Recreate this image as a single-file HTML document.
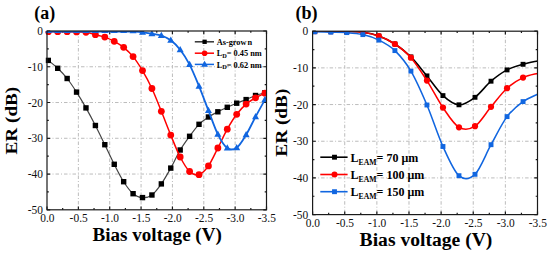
<!DOCTYPE html>
<html><head><meta charset="utf-8"><style>
html,body{margin:0;padding:0;background:#fff;}
body{width:550px;height:253px;overflow:hidden;font-family:"Liberation Serif",serif;}
svg{display:block;}
</style></head><body>
<svg width="550" height="253" viewBox="0 0 550 253">
<rect width="550" height="253" fill="#fff"/>
<defs><clipPath id="ca"><rect x="45.50" y="31.00" width="221.00" height="178.80"/></clipPath>
<clipPath id="cb"><rect x="312.60" y="31.20" width="224.90" height="183.40"/></clipPath></defs>
<g stroke="#bcbcbc" stroke-width="1" stroke-dasharray="3.5 2 1 2"><line x1="78.36" y1="31.00" x2="78.36" y2="209.80"/><line x1="109.71" y1="31.00" x2="109.71" y2="209.80"/><line x1="141.07" y1="31.00" x2="141.07" y2="209.80"/><line x1="172.43" y1="31.00" x2="172.43" y2="209.80"/><line x1="203.79" y1="31.00" x2="203.79" y2="209.80"/><line x1="235.14" y1="31.00" x2="235.14" y2="209.80"/><line x1="47.00" y1="66.76" x2="266.50" y2="66.76"/><line x1="47.00" y1="102.52" x2="266.50" y2="102.52"/><line x1="47.00" y1="138.28" x2="266.50" y2="138.28"/><line x1="47.00" y1="174.04" x2="266.50" y2="174.04"/></g>
<path d="M47.00,209.80V206.60M47.00,31.00V34.20M78.36,209.80V206.60M78.36,31.00V34.20M109.71,209.80V206.60M109.71,31.00V34.20M141.07,209.80V206.60M141.07,31.00V34.20M172.43,209.80V206.60M172.43,31.00V34.20M203.79,209.80V206.60M203.79,31.00V34.20M235.14,209.80V206.60M235.14,31.00V34.20M266.50,209.80V206.60M266.50,31.00V34.20M62.68,209.80V208.00M62.68,31.00V32.80M94.04,209.80V208.00M94.04,31.00V32.80M125.39,209.80V208.00M125.39,31.00V32.80M156.75,209.80V208.00M156.75,31.00V32.80M188.11,209.80V208.00M188.11,31.00V32.80M219.46,209.80V208.00M219.46,31.00V32.80M250.82,209.80V208.00M250.82,31.00V32.80M47.00,31.00H50.20M266.50,31.00H263.30M47.00,66.76H50.20M266.50,66.76H263.30M47.00,102.52H50.20M266.50,102.52H263.30M47.00,138.28H50.20M266.50,138.28H263.30M47.00,174.04H50.20M266.50,174.04H263.30M47.00,209.80H50.20M266.50,209.80H263.30M47.00,48.88H48.80M266.50,48.88H264.70M47.00,84.64H48.80M266.50,84.64H264.70M47.00,120.40H48.80M266.50,120.40H264.70M47.00,156.16H48.80M266.50,156.16H264.70M47.00,191.92H48.80M266.50,191.92H264.70" fill="none" stroke="#1a1a1a" stroke-width="1.2"/>
<g clip-path="url(#ca)"><path d="M48.30,60.40 C49.87,61.72 54.58,65.28 57.72,68.30 C60.86,71.32 64.00,74.53 67.14,78.50 C70.28,82.47 73.42,87.20 76.56,92.10 C79.70,97.00 82.84,102.33 85.98,107.90 C89.12,113.47 92.26,119.37 95.40,125.50 C98.54,131.63 101.68,138.23 104.82,144.70 C107.96,151.17 111.10,158.13 114.24,164.30 C117.38,170.47 120.52,176.80 123.66,181.70 C126.80,186.60 129.94,191.05 133.08,193.70 C136.22,196.35 139.36,197.38 142.50,197.60 C145.64,197.82 148.78,197.28 151.92,195.00 C155.06,192.72 158.20,188.38 161.34,183.90 C164.48,179.42 167.62,173.75 170.76,168.10 C173.90,162.45 177.04,155.30 180.18,150.00 C183.32,144.70 186.46,140.58 189.60,136.30 C192.74,132.02 195.88,127.52 199.02,124.30 C202.16,121.08 205.30,119.08 208.44,117.00 C211.58,114.92 214.72,113.42 217.86,111.80 C221.00,110.18 224.14,108.73 227.28,107.30 C230.42,105.87 233.56,104.48 236.70,103.20 C239.84,101.92 242.98,100.88 246.12,99.60 C249.26,98.32 252.40,96.65 255.54,95.50 C258.68,94.35 263.39,93.17 264.96,92.70" fill="none" stroke="#444" stroke-width="1.2"/><rect x="45.60" y="57.70" width="5.40" height="5.40" fill="#000000"/><rect x="55.02" y="65.60" width="5.40" height="5.40" fill="#000000"/><rect x="64.44" y="75.80" width="5.40" height="5.40" fill="#000000"/><rect x="73.86" y="89.40" width="5.40" height="5.40" fill="#000000"/><rect x="83.28" y="105.20" width="5.40" height="5.40" fill="#000000"/><rect x="92.70" y="122.80" width="5.40" height="5.40" fill="#000000"/><rect x="102.12" y="142.00" width="5.40" height="5.40" fill="#000000"/><rect x="111.54" y="161.60" width="5.40" height="5.40" fill="#000000"/><rect x="120.96" y="179.00" width="5.40" height="5.40" fill="#000000"/><rect x="130.38" y="191.00" width="5.40" height="5.40" fill="#000000"/><rect x="139.80" y="194.90" width="5.40" height="5.40" fill="#000000"/><rect x="149.22" y="192.30" width="5.40" height="5.40" fill="#000000"/><rect x="158.64" y="181.20" width="5.40" height="5.40" fill="#000000"/><rect x="168.06" y="165.40" width="5.40" height="5.40" fill="#000000"/><rect x="177.48" y="147.30" width="5.40" height="5.40" fill="#000000"/><rect x="186.90" y="133.60" width="5.40" height="5.40" fill="#000000"/><rect x="196.32" y="121.60" width="5.40" height="5.40" fill="#000000"/><rect x="205.74" y="114.30" width="5.40" height="5.40" fill="#000000"/><rect x="215.16" y="109.10" width="5.40" height="5.40" fill="#000000"/><rect x="224.58" y="104.60" width="5.40" height="5.40" fill="#000000"/><rect x="234.00" y="100.50" width="5.40" height="5.40" fill="#000000"/><rect x="243.42" y="96.90" width="5.40" height="5.40" fill="#000000"/><rect x="252.84" y="92.80" width="5.40" height="5.40" fill="#000000"/><rect x="262.26" y="90.00" width="5.40" height="5.40" fill="#000000"/><path d="M48.30,31.70 C49.87,31.70 54.58,31.70 57.72,31.70 C60.86,31.70 64.00,31.67 67.14,31.70 C70.28,31.73 73.42,31.80 76.56,31.90 C79.70,32.00 82.84,31.83 85.98,32.30 C89.12,32.77 92.26,33.90 95.40,34.70 C98.54,35.50 101.68,36.00 104.82,37.10 C107.96,38.20 111.10,39.60 114.24,41.30 C117.38,43.00 120.52,44.75 123.66,47.30 C126.80,49.85 129.94,52.72 133.08,56.60 C136.22,60.48 139.36,65.28 142.50,70.60 C145.64,75.92 148.78,81.72 151.92,88.50 C155.06,95.28 158.20,103.53 161.34,111.30 C164.48,119.07 167.62,127.48 170.76,135.10 C173.90,142.72 177.04,150.93 180.18,157.00 C183.32,163.07 186.46,168.55 189.60,171.50 C192.74,174.45 195.88,175.63 199.02,174.70 C202.16,173.77 205.30,170.35 208.44,165.90 C211.58,161.45 214.72,154.12 217.86,148.00 C221.00,141.88 224.14,134.82 227.28,129.20 C230.42,123.58 233.56,118.48 236.70,114.30 C239.84,110.12 242.98,106.85 246.12,104.10 C249.26,101.35 252.40,99.62 255.54,97.80 C258.68,95.98 263.39,93.97 264.96,93.20" fill="none" stroke="#ff0000" stroke-width="1.5"/><circle cx="48.30" cy="31.70" r="3.40" fill="#ff0000"/><circle cx="57.72" cy="31.70" r="3.40" fill="#ff0000"/><circle cx="67.14" cy="31.70" r="3.40" fill="#ff0000"/><circle cx="76.56" cy="31.90" r="3.40" fill="#ff0000"/><circle cx="85.98" cy="32.30" r="3.40" fill="#ff0000"/><circle cx="95.40" cy="34.70" r="3.40" fill="#ff0000"/><circle cx="104.82" cy="37.10" r="3.40" fill="#ff0000"/><circle cx="114.24" cy="41.30" r="3.40" fill="#ff0000"/><circle cx="123.66" cy="47.30" r="3.40" fill="#ff0000"/><circle cx="133.08" cy="56.60" r="3.40" fill="#ff0000"/><circle cx="142.50" cy="70.60" r="3.40" fill="#ff0000"/><circle cx="151.92" cy="88.50" r="3.40" fill="#ff0000"/><circle cx="161.34" cy="111.30" r="3.40" fill="#ff0000"/><circle cx="170.76" cy="135.10" r="3.40" fill="#ff0000"/><circle cx="180.18" cy="157.00" r="3.40" fill="#ff0000"/><circle cx="189.60" cy="171.50" r="3.40" fill="#ff0000"/><circle cx="199.02" cy="174.70" r="3.40" fill="#ff0000"/><circle cx="208.44" cy="165.90" r="3.40" fill="#ff0000"/><circle cx="217.86" cy="148.00" r="3.40" fill="#ff0000"/><circle cx="227.28" cy="129.20" r="3.40" fill="#ff0000"/><circle cx="236.70" cy="114.30" r="3.40" fill="#ff0000"/><circle cx="246.12" cy="104.10" r="3.40" fill="#ff0000"/><circle cx="255.54" cy="97.80" r="3.40" fill="#ff0000"/><circle cx="264.96" cy="93.20" r="3.40" fill="#ff0000"/><path d="M48.30,31.60 C49.87,31.60 54.58,31.60 57.72,31.60 C60.86,31.60 64.00,31.60 67.14,31.60 C70.28,31.60 73.42,31.60 76.56,31.60 C79.70,31.60 82.84,31.60 85.98,31.60 C89.12,31.60 92.26,31.60 95.40,31.60 C98.54,31.60 101.68,31.60 104.82,31.60 C107.96,31.60 111.10,31.60 114.24,31.60 C117.38,31.60 120.52,31.58 123.66,31.60 C126.80,31.62 129.94,31.58 133.08,31.70 C136.22,31.82 139.36,31.97 142.50,32.30 C145.64,32.63 148.78,33.17 151.92,33.70 C155.06,34.23 158.20,34.40 161.34,35.50 C164.48,36.60 167.62,37.93 170.76,40.30 C173.90,42.67 177.04,45.65 180.18,49.70 C183.32,53.75 186.46,58.52 189.60,64.60 C192.74,70.68 195.88,78.55 199.02,86.20 C202.16,93.85 205.30,102.48 208.44,110.50 C211.58,118.52 214.72,128.05 217.86,134.30 C221.00,140.55 224.14,145.77 227.28,148.00 C230.42,150.23 233.56,149.90 236.70,147.70 C239.84,145.50 242.98,139.95 246.12,134.80 C249.26,129.65 252.40,122.67 255.54,116.80 C258.68,110.93 263.39,102.47 264.96,99.60" fill="none" stroke="#1166e0" stroke-width="1.8"/><polygon points="48.30,26.82 44.80,33.12 51.80,33.12" fill="#1166e0"/><polygon points="57.72,26.82 54.22,33.12 61.22,33.12" fill="#1166e0"/><polygon points="67.14,26.82 63.64,33.12 70.64,33.12" fill="#1166e0"/><polygon points="76.56,26.82 73.06,33.12 80.06,33.12" fill="#1166e0"/><polygon points="85.98,26.82 82.48,33.12 89.48,33.12" fill="#1166e0"/><polygon points="95.40,26.82 91.90,33.12 98.90,33.12" fill="#1166e0"/><polygon points="104.82,26.82 101.32,33.12 108.32,33.12" fill="#1166e0"/><polygon points="114.24,26.82 110.74,33.12 117.74,33.12" fill="#1166e0"/><polygon points="123.66,26.82 120.16,33.12 127.16,33.12" fill="#1166e0"/><polygon points="133.08,26.92 129.58,33.22 136.58,33.22" fill="#1166e0"/><polygon points="142.50,28.52 139.00,34.82 146.00,34.82" fill="#1166e0"/><polygon points="151.92,29.92 148.42,36.22 155.42,36.22" fill="#1166e0"/><polygon points="161.34,31.72 157.84,38.02 164.84,38.02" fill="#1166e0"/><polygon points="170.76,36.52 167.26,42.82 174.26,42.82" fill="#1166e0"/><polygon points="180.18,45.92 176.68,52.22 183.68,52.22" fill="#1166e0"/><polygon points="189.60,60.82 186.10,67.12 193.10,67.12" fill="#1166e0"/><polygon points="199.02,82.42 195.52,88.72 202.52,88.72" fill="#1166e0"/><polygon points="208.44,106.72 204.94,113.02 211.94,113.02" fill="#1166e0"/><polygon points="217.86,130.52 214.36,136.82 221.36,136.82" fill="#1166e0"/><polygon points="227.28,144.22 223.78,150.52 230.78,150.52" fill="#1166e0"/><polygon points="236.70,143.92 233.20,150.22 240.20,150.22" fill="#1166e0"/><polygon points="246.12,131.02 242.62,137.32 249.62,137.32" fill="#1166e0"/><polygon points="255.54,113.02 252.04,119.32 259.04,119.32" fill="#1166e0"/><polygon points="264.96,95.82 261.46,102.12 268.46,102.12" fill="#1166e0"/></g>
<rect x="47.00" y="31.00" width="219.50" height="178.80" fill="none" stroke="#1a1a1a" stroke-width="1.2"/>
<g font-family="Liberation Serif" font-size="12.30" fill="#111"><text transform="translate(47.30,222.40) scale(0.930,1)" text-anchor="middle">0.0</text><text transform="translate(78.66,222.40) scale(0.930,1)" text-anchor="middle">-0.5</text><text transform="translate(110.01,222.40) scale(0.930,1)" text-anchor="middle">-1.0</text><text transform="translate(141.37,222.40) scale(0.930,1)" text-anchor="middle">-1.5</text><text transform="translate(172.73,222.40) scale(0.930,1)" text-anchor="middle">-2.0</text><text transform="translate(204.09,222.40) scale(0.930,1)" text-anchor="middle">-2.5</text><text transform="translate(235.44,222.40) scale(0.930,1)" text-anchor="middle">-3.0</text><text transform="translate(266.80,222.40) scale(0.930,1)" text-anchor="middle">-3.5</text><text transform="translate(42.90,35.20) scale(0.930,1)" text-anchor="end">0</text><text transform="translate(42.90,70.96) scale(0.930,1)" text-anchor="end">-10</text><text transform="translate(42.90,106.72) scale(0.930,1)" text-anchor="end">-20</text><text transform="translate(42.90,142.48) scale(0.930,1)" text-anchor="end">-30</text><text transform="translate(42.90,178.24) scale(0.930,1)" text-anchor="end">-40</text><text transform="translate(42.90,214.00) scale(0.930,1)" text-anchor="end">-50</text></g>
<text x="157.2" y="240.7" text-anchor="middle" font-family="Liberation Serif" font-weight="bold" font-size="19.1">Bias voltage (V)</text>
<text transform="translate(17.2,120.6) rotate(-90) scale(1,0.92)" text-anchor="middle" font-family="Liberation Serif" font-weight="bold" font-size="19.2">ER (dB)</text>
<text transform="translate(34.3,19.1) scale(0.92,1)" font-family="Liberation Serif" font-weight="bold" font-size="19.5">(a)</text>
<line x1="194.8" y1="41.80" x2="214" y2="41.80" stroke="#333" stroke-width="1.5"/><rect x="202.45" y="39.65" width="4.30" height="4.30" fill="#000000"/><text x="216.7" y="44.80" font-family="Liberation Serif" font-weight="bold" font-size="8.3">As-grow<tspan dx="1">n</tspan></text><line x1="194.8" y1="53.20" x2="214" y2="53.20" stroke="#ff0000" stroke-width="1.5"/><circle cx="204.60" cy="53.20" r="2.80" fill="#ff0000"/><text x="216.7" y="56.30" font-family="Liberation Serif" font-weight="bold" font-size="8.3">L<tspan font-size="6.3" dy="1.6">D</tspan><tspan dy="-1.6">= 0.45 nm</tspan></text><line x1="194.8" y1="64.40" x2="214" y2="64.40" stroke="#1166e0" stroke-width="1.5"/><polygon points="204.60,60.73 201.20,66.85 208.00,66.85" fill="#1166e0"/><text x="216.7" y="67.80" font-family="Liberation Serif" font-weight="bold" font-size="8.3">L<tspan font-size="6.3" dy="1.6">D</tspan><tspan dy="-1.6">= 0.62 nm</tspan></text>
<g stroke="#bcbcbc" stroke-width="1" stroke-dasharray="3.5 2 1 2"><line x1="344.73" y1="31.20" x2="344.73" y2="214.60"/><line x1="376.86" y1="31.20" x2="376.86" y2="214.60"/><line x1="408.99" y1="31.20" x2="408.99" y2="214.60"/><line x1="441.11" y1="31.20" x2="441.11" y2="214.60"/><line x1="473.24" y1="31.20" x2="473.24" y2="214.60"/><line x1="505.37" y1="31.20" x2="505.37" y2="214.60"/><line x1="312.60" y1="67.88" x2="537.50" y2="67.88"/><line x1="312.60" y1="104.56" x2="537.50" y2="104.56"/><line x1="312.60" y1="141.24" x2="537.50" y2="141.24"/><line x1="312.60" y1="177.92" x2="537.50" y2="177.92"/></g>
<path d="M312.60,214.60V211.40M312.60,31.20V34.40M344.73,214.60V211.40M344.73,31.20V34.40M376.86,214.60V211.40M376.86,31.20V34.40M408.99,214.60V211.40M408.99,31.20V34.40M441.11,214.60V211.40M441.11,31.20V34.40M473.24,214.60V211.40M473.24,31.20V34.40M505.37,214.60V211.40M505.37,31.20V34.40M537.50,214.60V211.40M537.50,31.20V34.40M328.66,214.60V212.80M328.66,31.20V33.00M360.79,214.60V212.80M360.79,31.20V33.00M392.92,214.60V212.80M392.92,31.20V33.00M425.05,214.60V212.80M425.05,31.20V33.00M457.18,214.60V212.80M457.18,31.20V33.00M489.31,214.60V212.80M489.31,31.20V33.00M521.44,214.60V212.80M521.44,31.20V33.00M312.60,31.20H315.80M537.50,31.20H534.30M312.60,67.88H315.80M537.50,67.88H534.30M312.60,104.56H315.80M537.50,104.56H534.30M312.60,141.24H315.80M537.50,141.24H534.30M312.60,177.92H315.80M537.50,177.92H534.30M312.60,214.60H315.80M537.50,214.60H534.30M312.60,49.54H314.40M537.50,49.54H535.70M312.60,86.22H314.40M537.50,86.22H535.70M312.60,122.90H314.40M537.50,122.90H535.70M312.60,159.58H314.40M537.50,159.58H535.70M312.60,196.26H314.40M537.50,196.26H535.70" fill="none" stroke="#1a1a1a" stroke-width="1.2"/>
<g clip-path="url(#cb)"><path d="M314.80,31.20 C317.47,31.20 325.48,31.15 330.82,31.20 C336.16,31.25 341.50,31.33 346.84,31.50 C352.18,31.67 357.52,31.45 362.86,32.20 C368.20,32.95 373.54,34.03 378.88,36.00 C384.22,37.97 389.56,40.52 394.90,44.00 C400.24,47.48 405.58,51.58 410.92,56.90 C416.26,62.22 421.60,69.45 426.94,75.90 C432.28,82.35 437.62,90.78 442.96,95.60 C448.30,100.42 453.64,104.52 458.98,104.80 C464.32,105.08 469.66,101.23 475.00,97.30 C480.34,93.37 485.68,85.77 491.02,81.20 C496.36,76.63 501.70,72.72 507.04,69.90 C512.38,67.08 517.98,65.78 523.06,64.30 C528.14,62.82 535.09,61.55 537.50,61.00" fill="none" stroke="#000000" stroke-width="1.55"/><rect x="312.35" y="28.75" width="4.90" height="4.90" fill="#000000"/><rect x="328.37" y="28.75" width="4.90" height="4.90" fill="#000000"/><rect x="344.39" y="29.05" width="4.90" height="4.90" fill="#000000"/><rect x="360.41" y="29.75" width="4.90" height="4.90" fill="#000000"/><rect x="376.43" y="33.55" width="4.90" height="4.90" fill="#000000"/><rect x="392.45" y="41.55" width="4.90" height="4.90" fill="#000000"/><rect x="408.47" y="54.45" width="4.90" height="4.90" fill="#000000"/><rect x="424.49" y="73.45" width="4.90" height="4.90" fill="#000000"/><rect x="440.51" y="93.15" width="4.90" height="4.90" fill="#000000"/><rect x="456.53" y="102.35" width="4.90" height="4.90" fill="#000000"/><rect x="472.55" y="94.85" width="4.90" height="4.90" fill="#000000"/><rect x="488.57" y="78.75" width="4.90" height="4.90" fill="#000000"/><rect x="504.59" y="67.45" width="4.90" height="4.90" fill="#000000"/><rect x="520.61" y="61.85" width="4.90" height="4.90" fill="#000000"/><path d="M314.80,31.20 C317.47,31.20 325.48,31.15 330.82,31.20 C336.16,31.25 341.50,31.33 346.84,31.50 C352.18,31.67 357.52,31.43 362.86,32.20 C368.20,32.97 373.54,34.13 378.88,36.10 C384.22,38.07 389.56,40.40 394.90,44.00 C400.24,47.60 405.58,51.60 410.92,57.70 C416.26,63.80 421.60,72.28 426.94,80.60 C432.28,88.92 437.62,99.82 442.96,107.60 C448.30,115.38 453.64,124.20 458.98,127.30 C464.32,130.40 469.66,129.62 475.00,126.20 C480.34,122.78 485.68,113.13 491.02,106.80 C496.36,100.47 501.70,93.07 507.04,88.20 C512.38,83.33 517.98,80.07 523.06,77.60 C528.14,75.13 535.09,74.10 537.50,73.40" fill="none" stroke="#ff0000" stroke-width="1.55"/><circle cx="314.80" cy="31.20" r="3.10" fill="#ff0000"/><circle cx="330.82" cy="31.20" r="3.10" fill="#ff0000"/><circle cx="346.84" cy="31.50" r="3.10" fill="#ff0000"/><circle cx="362.86" cy="32.20" r="3.10" fill="#ff0000"/><circle cx="378.88" cy="36.10" r="3.10" fill="#ff0000"/><circle cx="394.90" cy="44.00" r="3.10" fill="#ff0000"/><circle cx="410.92" cy="57.70" r="3.10" fill="#ff0000"/><circle cx="426.94" cy="80.60" r="3.10" fill="#ff0000"/><circle cx="442.96" cy="107.60" r="3.10" fill="#ff0000"/><circle cx="458.98" cy="127.30" r="3.10" fill="#ff0000"/><circle cx="475.00" cy="126.20" r="3.10" fill="#ff0000"/><circle cx="491.02" cy="106.80" r="3.10" fill="#ff0000"/><circle cx="507.04" cy="88.20" r="3.10" fill="#ff0000"/><circle cx="523.06" cy="77.60" r="3.10" fill="#ff0000"/><path d="M314.80,31.80 C317.47,31.87 325.48,32.07 330.82,32.20 C336.16,32.33 341.50,32.20 346.84,32.60 C352.18,33.00 357.52,33.35 362.86,34.60 C368.20,35.85 373.54,37.43 378.88,40.10 C384.22,42.77 389.56,45.43 394.90,50.60 C400.24,55.77 405.58,62.03 410.92,71.10 C416.26,80.17 421.60,92.43 426.94,105.00 C432.28,117.57 437.62,134.72 442.96,146.50 C448.30,158.28 453.64,171.07 458.98,175.70 C464.32,180.33 469.66,179.47 475.00,174.30 C480.34,169.13 485.68,154.32 491.02,144.70 C496.36,135.08 501.70,123.78 507.04,116.60 C512.38,109.42 517.98,105.33 523.06,101.60 C528.14,97.87 535.09,95.43 537.50,94.20" fill="none" stroke="#1166e0" stroke-width="1.55"/><rect x="312.35" y="29.35" width="4.90" height="4.90" fill="#1166e0"/><rect x="328.37" y="29.75" width="4.90" height="4.90" fill="#1166e0"/><rect x="344.39" y="30.15" width="4.90" height="4.90" fill="#1166e0"/><rect x="360.41" y="32.15" width="4.90" height="4.90" fill="#1166e0"/><rect x="376.43" y="37.65" width="4.90" height="4.90" fill="#1166e0"/><rect x="392.45" y="48.15" width="4.90" height="4.90" fill="#1166e0"/><rect x="408.47" y="68.65" width="4.90" height="4.90" fill="#1166e0"/><rect x="424.49" y="102.55" width="4.90" height="4.90" fill="#1166e0"/><rect x="440.51" y="144.05" width="4.90" height="4.90" fill="#1166e0"/><rect x="456.53" y="173.25" width="4.90" height="4.90" fill="#1166e0"/><rect x="472.55" y="171.85" width="4.90" height="4.90" fill="#1166e0"/><rect x="488.57" y="142.25" width="4.90" height="4.90" fill="#1166e0"/><rect x="504.59" y="114.15" width="4.90" height="4.90" fill="#1166e0"/><rect x="520.61" y="99.15" width="4.90" height="4.90" fill="#1166e0"/></g>
<rect x="312.60" y="31.20" width="224.90" height="183.40" fill="none" stroke="#1a1a1a" stroke-width="1.2"/>
<g font-family="Liberation Serif" font-size="12.30" fill="#111"><text transform="translate(312.90,227.00) scale(0.930,1)" text-anchor="middle">0.0</text><text transform="translate(345.03,227.00) scale(0.930,1)" text-anchor="middle">-0.5</text><text transform="translate(377.16,227.00) scale(0.930,1)" text-anchor="middle">-1.0</text><text transform="translate(409.29,227.00) scale(0.930,1)" text-anchor="middle">-1.5</text><text transform="translate(441.41,227.00) scale(0.930,1)" text-anchor="middle">-2.0</text><text transform="translate(473.54,227.00) scale(0.930,1)" text-anchor="middle">-2.5</text><text transform="translate(505.67,227.00) scale(0.930,1)" text-anchor="middle">-3.0</text><text transform="translate(537.80,227.00) scale(0.930,1)" text-anchor="middle">-3.5</text><text transform="translate(308.30,35.40) scale(0.930,1)" text-anchor="end">0</text><text transform="translate(308.30,72.08) scale(0.930,1)" text-anchor="end">-10</text><text transform="translate(308.30,108.76) scale(0.930,1)" text-anchor="end">-20</text><text transform="translate(308.30,145.44) scale(0.930,1)" text-anchor="end">-30</text><text transform="translate(308.30,182.12) scale(0.930,1)" text-anchor="end">-40</text><text transform="translate(308.30,218.80) scale(0.930,1)" text-anchor="end">-50</text></g>
<text x="426" y="246.0" text-anchor="middle" font-family="Liberation Serif" font-weight="bold" font-size="19.6">Bias voltage (V)</text>
<text transform="translate(287.2,122.7) rotate(-90) scale(1,0.92)" text-anchor="middle" font-family="Liberation Serif" font-weight="bold" font-size="19.3">ER (dB)</text>
<text transform="translate(295.4,19.1) scale(0.93,1)" font-family="Liberation Serif" font-weight="bold" font-size="19.5">(b)</text>
<line x1="320.3" y1="157.20" x2="347.6" y2="157.20" stroke="#000000" stroke-width="1.6"/><rect x="332.05" y="154.75" width="4.90" height="4.90" fill="#000000"/><text x="350.6" y="161.70" font-family="Liberation Serif" font-weight="bold" font-size="12">L<tspan font-size="7.7" dy="3">EAM</tspan><tspan dy="-3">= 70 &#956;m</tspan></text><line x1="320.3" y1="174.50" x2="347.6" y2="174.50" stroke="#ff0000" stroke-width="1.6"/><circle cx="334.50" cy="174.50" r="3.00" fill="#ff0000"/><text x="350.6" y="179.00" font-family="Liberation Serif" font-weight="bold" font-size="12">L<tspan font-size="7.7" dy="3">EAM</tspan><tspan dy="-3">= 100 &#956;m</tspan></text><line x1="320.3" y1="191.70" x2="347.6" y2="191.70" stroke="#1166e0" stroke-width="1.6"/><rect x="332.05" y="189.25" width="4.90" height="4.90" fill="#1166e0"/><text x="350.6" y="196.20" font-family="Liberation Serif" font-weight="bold" font-size="12">L<tspan font-size="7.7" dy="3">EAM</tspan><tspan dy="-3">= 150 &#956;m</tspan></text>
</svg>
</body></html>
